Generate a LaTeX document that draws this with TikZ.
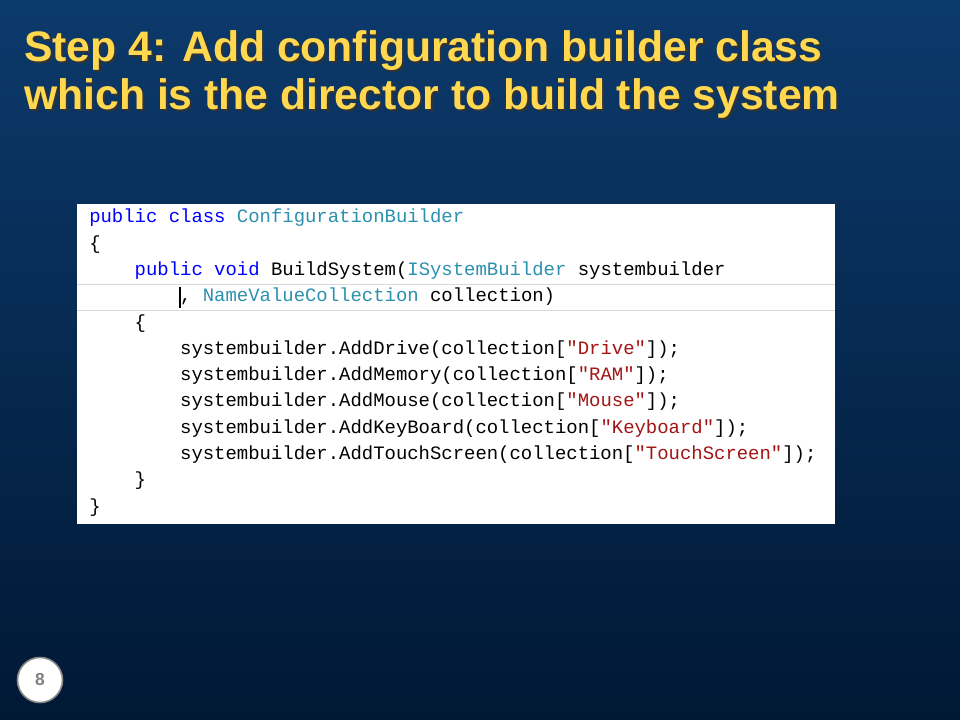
\documentclass[tikz,border=0pt]{standalone}
\usepackage{fontspec}
\setmainfont{Liberation Sans}
\newfontfamily\codefont{Liberation Mono}
\definecolor{kw}{RGB}{0,0,255}
\definecolor{ty}{RGB}{43,145,175}
\definecolor{st}{RGB}{163,21,21}
\definecolor{ttl}{RGB}{255,216,80}
\begin{document}
\begin{tikzpicture}[x=0.75pt,y=-0.75pt,
  codeline/.style={anchor=west,inner sep=0pt,font=\codefont\fontsize{14.2pt}{16pt}\selectfont},
  title/.style={anchor=base west,inner sep=0pt,text=ttl,font=\fontsize{32pt}{36pt}\selectfont\bfseries}]
\useasboundingbox (0,0) rectangle (960,720);
\shade[top color={rgb,255:red,12;green,58;blue,108}, bottom color={rgb,255:red,0;green,24;blue,52}] (0,0) rectangle (960,720);
\foreach \t/\yy/\n in {{Step 4: Add configuration builder class}/62/t1,{which is the director to build the system}/110/t2}{
  \node[title,text=black!80] (\n s) at (26,\yy+2) {\t};
  \node[title] (\n) at (24,\yy) {\t};
}
\fill[white] (77,204) rectangle (835,524);
\draw[black!15] (77,284) -- (835,284) (77,310) -- (835,310);
\draw[black,line width=0.8pt] (180,287) -- (180,308);
\def\ly#1{218+26.3*#1}
\node[codeline] (c0) at (89,{\ly{0}}) {\textcolor{kw}{public class} \textcolor{ty}{ConfigurationBuilder}};
\node[codeline] (c1) at (89,{\ly{1}}) {\{};
\node[codeline] (c2) at (89,{\ly{2}}) {\phantom{xxxx}\textcolor{kw}{public void} BuildSystem(\textcolor{ty}{ISystemBuilder} systembuilder};
\node[codeline] (c3) at (89,{\ly{3}}) {\phantom{xxxxxxxx}, \textcolor{ty}{NameValueCollection} collection)};
\node[codeline] (c4) at (89,{\ly{4}}) {\phantom{xxxx}\{};
\node[codeline] (c5) at (89,{\ly{5}}) {\phantom{xxxxxxxx}systembuilder.AddDrive(collection[\textcolor{st}{"Drive"}]);};
\node[codeline] (c6) at (89,{\ly{6}}) {\phantom{xxxxxxxx}systembuilder.AddMemory(collection[\textcolor{st}{"RAM"}]);};
\node[codeline] (c7) at (89,{\ly{7}}) {\phantom{xxxxxxxx}systembuilder.AddMouse(collection[\textcolor{st}{"Mouse"}]);};
\node[codeline] (c8) at (89,{\ly{8}}) {\phantom{xxxxxxxx}systembuilder.AddKeyBoard(collection[\textcolor{st}{"Keyboard"}]);};
\node[codeline] (c9) at (89,{\ly{9}}) {\phantom{xxxxxxxx}systembuilder.AddTouchScreen(collection[\textcolor{st}{"TouchScreen"}]);};
\node[codeline] (c10) at (89,{\ly{10}}) {\phantom{xxxx}\}};
\node[codeline] (c11) at (89,{\ly{11}}) {\}};
\node[circle,fill=white,draw=black!45,line width=1.2pt,minimum size=45*0.75pt,inner sep=0pt,text=black!50,font=\fontsize{13pt}{15pt}\selectfont\bfseries] (pg) at (40,680) {8};
\end{tikzpicture}
\end{document}
